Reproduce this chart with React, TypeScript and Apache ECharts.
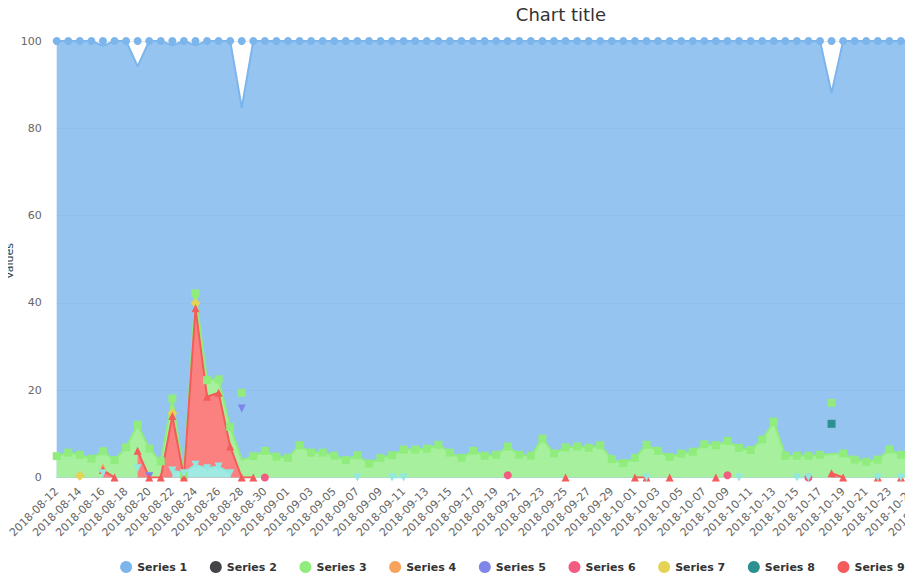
import React, { useEffect, useRef } from "react";
import * as echarts from "echarts";

const dates = [
  "2018-08-12","2018-08-13","2018-08-14","2018-08-15","2018-08-16","2018-08-17","2018-08-18","2018-08-19","2018-08-20","2018-08-21",
  "2018-08-22","2018-08-23","2018-08-24","2018-08-25","2018-08-26","2018-08-27","2018-08-28","2018-08-29","2018-08-30","2018-08-31",
  "2018-09-01","2018-09-02","2018-09-03","2018-09-04","2018-09-05","2018-09-06","2018-09-07","2018-09-08","2018-09-09","2018-09-10",
  "2018-09-11","2018-09-12","2018-09-13","2018-09-14","2018-09-15","2018-09-16","2018-09-17","2018-09-18","2018-09-19","2018-09-20",
  "2018-09-21","2018-09-22","2018-09-23","2018-09-24","2018-09-25","2018-09-26","2018-09-27","2018-09-28","2018-09-29","2018-09-30",
  "2018-10-01","2018-10-02","2018-10-03","2018-10-04","2018-10-05","2018-10-06","2018-10-07","2018-10-08","2018-10-09","2018-10-10",
  "2018-10-11","2018-10-12","2018-10-13","2018-10-14","2018-10-15","2018-10-16","2018-10-17","2018-10-18","2018-10-19","2018-10-20",
  "2018-10-21","2018-10-22","2018-10-23","2018-10-24","2018-10-25","2018-10-26","2018-10-27","2018-10-28","2018-10-29","2018-10-30",
  "2018-10-31","2018-11-01","2018-11-02","2018-11-03","2018-11-04","2018-11-05","2018-11-06","2018-11-07","2018-11-08","2018-11-09",
  "2018-11-10"
];

const seriesNames = ["Series 1","Series 2","Series 3","Series 4","Series 5","Series 6","Series 7","Series 8","Series 9","Series 10"];
const yTicks = [0, 20, 40, 60, 80, 100];
const yAxisTitle = "Values";

const _ = null;

// Series 1: area top line (with its dips)
const series1 = [
  100,100,100,100,98.9,100,100,94.2,100,100,
  99.0,100,99.0,100,100,100,84.7,100,100,100,
  100,100,100,100,100,100,100,100,100,100,
  100,100,100,100,100,100,100,100,100,100,
  100,100,100,100,100,100,100,100,100,100,
  100,100,100,100,100,100,100,100,100,100,
  100,100,100,100,100,100,100,88.1,100,100,
  100,100,100,100,100,100
];
// Series 1 markers
const series1Points = [
  100,100,100,100,100,100,100,100,100,100,
  100,100,100,100,100,100,100,100,100,100,
  100,100,100,100,100,100,100,100,100,100,
  100,100,100,100,100,100,100,100,100,100,
  100,100,100,100,100,100,100,100,100,100,
  100,100,100,100,100,100,100,100,100,100,
  100,100,100,100,100,100,100,100,100,100,
  100,100,100,100,100,100
];
const series2: (number | null)[] = [];
const series3 = [
  4.9,5.7,5.2,4.3,6.0,4.0,6.9,12.1,6.6,3.7,
  18.1,0.5,42.2,22.3,22.5,11.6,4.0,4.9,6.1,4.8,
  4.5,7.4,5.7,5.7,5.0,4.0,5.1,3.2,4.5,5.1,
  6.4,6.4,6.6,7.5,5.7,4.5,6.1,5.0,5.2,7.1,
  5.2,5.0,8.9,5.5,6.9,7.1,6.8,7.4,4.2,3.3,
  4.5,7.5,6.1,4.7,5.5,5.9,7.6,7.4,8.4,6.8,
  6.3,8.7,12.8,5.0,5.0,5.0,5.2,5.4,5.5,4.1,
  3.6,4.1,6.4,5.2,4.2,5.0
];
// Series 3 markers that sit off its area line
const series3Extra = [
  _,_,_,_,_,_,_,_,_,_,
  _,_,_,_,_,_,19.4,_,_,_,
  _,_,_,_,_,_,_,_,_,_,
  _,_,_,_,_,_,_,_,_,_,
  _,_,_,_,_,_,_,_,_,_,
  _,_,_,_,_,_,_,_,_,_,
  _,_,_,_,_,_,_,17.1,_,_,
  _,_,_,_,_,_
];
const series4 = [_,_,_,_,2.3];
const series5 = [
  _,_,_,_,_,_,_,_,0.3,_,
  _,_,_,_,_,_,15.8
];
const series6 = [
  _,_,_,_,_,_,_,_,_,_,
  _,_,_,_,_,_,_,_,0,_,
  _,_,_,_,_,_,_,_,_,_,
  _,_,_,_,_,_,_,_,_,0.5,
  _,_,_,_,_,_,_,_,_,_,
  _,_,_,_,_,_,_,_,0.5,_,
  _,_,_,_,_,0
];
const series7 = [_,_,0.4,_,_,_,_,_,_,_,14.7,_,40.0];
const series8 = [
  _,_,_,_,_,_,_,_,_,_,
  _,_,_,_,_,_,_,_,_,_,
  _,_,_,_,_,_,_,_,_,_,
  _,_,_,_,_,_,_,_,_,_,
  _,_,_,_,_,_,_,_,_,_,
  _,_,_,_,_,_,_,_,_,_,
  _,_,_,_,_,_,_,12.3
];
const series9 = [
  _,_,_,_,1.7,0,_,6.1,0,0,
  14.1,0,38.8,18.5,19.4,7.1,0,0,_,_,
  _,_,_,_,_,_,_,_,_,_,
  _,_,_,_,_,_,_,_,_,_,
  _,_,_,_,0,_,_,_,_,_,
  0,0,_,0,_,_,_,0,_,_,
  _,_,_,_,_,_,_,1.0,0,_,
  _,0,_,0
];
const series10 = [
  _,_,_,_,1.0,_,_,2.1,_,_,
  1.6,1.0,2.9,2.1,2.5,1.0,_,_,_,_,
  _,_,_,_,_,_,0,_,_,0,
  0,_,_,_,_,_,_,_,_,_,
  _,_,_,_,_,_,_,_,_,_,
  _,0,_,_,_,_,_,_,_,0,
  _,_,_,_,0,0,_,_,_,_,
  _,0,_,0
];

const colors = ["#7cb5ec","#434348","#90ed7d","#f7a35c","#8085e9","#f15c80","#e4d354","#2b908f","#f45b5b","#91e8e1"];
const fills = ["#7cb5ec","#727276","#a7f09d","#f9ba85","#a0a4ee","#f485a0","#eadd7f","#60acab","#fb8080","#a1eae4"];
const triDown = "path://M0,0L10,0L5,9Z";

const FONT = "DejaVu Sans";

function lineSeries(idx: number, data: any[], symbol: string, hideIdx?: (number | null)[]) {
  return {
    type: "line",
    name: seriesNames[idx],
    data: data.map((v, i) => (hideIdx && hideIdx[i] != null ? { value: v, symbol: "none" } : v)),
    symbol,
    symbolSize: symbol === "diamond" ? 10 : 8,
    showSymbol: true,
    showAllSymbol: true,
    connectNulls: false,
    itemStyle: { color: colors[idx], opacity: 1 },
    lineStyle: { width: 2, color: colors[idx] },
    areaStyle: { color: fills[idx], opacity: 1 },
    emphasis: { disabled: true },
  };
}

function pointSeries(idx: number, data: any[], symbol: string) {
  return {
    type: "line",
    name: seriesNames[idx],
    data,
    symbol,
    symbolSize: 8,
    showSymbol: true,
    showAllSymbol: true,
    connectNulls: false,
    itemStyle: { color: colors[idx], opacity: 1 },
    lineStyle: { width: 0, opacity: 0 },
    emphasis: { disabled: true },
  };
}

export default function App() {
  const ref = useRef<HTMLDivElement>(null);
  useEffect(() => {
    if (!ref.current) return;
    const chart = echarts.init(ref.current, null, { renderer: "svg" });
    const series: any[] = [
      {
        type: "line",
        name: seriesNames[0],
        data: series1,
        showSymbol: false,
        itemStyle: { color: colors[0] },
        lineStyle: { width: 2, color: colors[0] },
        areaStyle: { color: colors[0], opacity: 0.8 },
        emphasis: { disabled: true },
      },
      pointSeries(0, series1Points, "circle"),
      lineSeries(1, series2, "diamond"),
      lineSeries(2, series3, "rect", series3Extra),
      pointSeries(2, series3Extra, "rect"),
      lineSeries(3, series4, "triangle"),
      lineSeries(4, series5, triDown),
      lineSeries(5, series6, "circle"),
      lineSeries(6, series7, "diamond"),
      lineSeries(7, series8, "rect"),
      lineSeries(8, series9, "triangle"),
      lineSeries(9, series10, triDown),
    ];
    chart.setOption({
      animation: false,
      textStyle: { fontFamily: FONT },
      title: {
        text: "Chart title",
        left: "center",
        top: -3,
        padding: 0,
        textStyle: { fontFamily: FONT, fontSize: 18, fontWeight: "normal", color: "#333333" },
      },
      legend: {
        data: seriesNames.map((n) => ({ name: n, icon: "circle" })),
        left: "center",
        top: 553,
        padding: 0,
        itemWidth: 12,
        itemHeight: 12,
        itemGap: 22.6,
        textStyle: { fontFamily: FONT, fontSize: 11, fontWeight: "bold", color: "#333333" },
      },
      graphic: [
        {
          type: "text",
          x: 9,
          y: 253,
          rotation: Math.PI / 2,
          z: 100,
          style: {
            text: yAxisTitle,
            fontSize: 11,
            fontFamily: FONT,
            fill: "#333333",
            align: "center",
            verticalAlign: "middle",
          },
        },
      ],
      grid: { left: 56.7, right: 24.45, top: 33, bottom: 95.5, containLabel: false, outerBoundsMode: "none" },
      xAxis: {
        type: "category",
        data: dates,
        boundaryGap: false,
        axisLine: { lineStyle: { color: "#ccd6eb" } },
        axisTick: { show: false },
        axisLabel: { interval: 1, rotate: 45, margin: 12, fontSize: 11, color: "#666666", fontFamily: FONT },
        splitLine: { show: false },
      },
      yAxis: {
        type: "value",
        min: yTicks[0],
        max: yTicks[yTicks.length - 1],
        interval: 20,
        axisLine: { show: false },
        axisTick: { show: false },
        axisLabel: { margin: 15, fontSize: 11, color: "#666666", fontFamily: FONT },
        splitLine: { lineStyle: { color: "#e6e6e6" } },
      },
      series,
    });
    return () => chart.dispose();
  }, []);
  return (
    <div style={{ width: 913, height: 565, overflow: "hidden", marginLeft: -8 }}>
      <div ref={ref} style={{ width: 1122, height: 565 }} />
    </div>
  );
}
